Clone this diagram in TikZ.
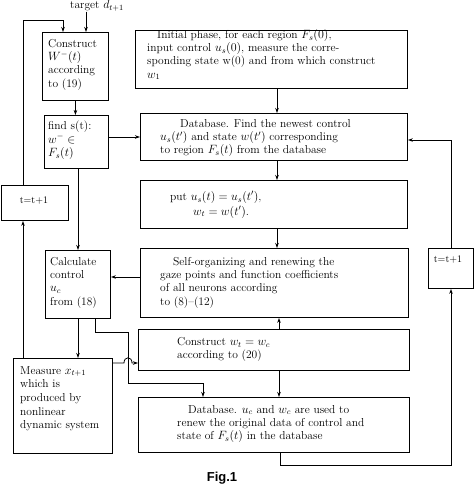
\documentclass[tikz,border=0pt]{standalone}
\usepackage{fontspec}
\newfontfamily\figfont{Liberation Sans}
\usetikzlibrary{arrows.meta}
\begin{document}
\begin{tikzpicture}[x=1pt,y=-1pt,
  box/.style={draw, line width=0.9pt, inner sep=0pt, anchor=north west},
  txt/.style={inner sep=0pt, anchor=north west, align=left, font=\fontsize{11.5}{13.3}\selectfont},
  ctxt/.style={inner sep=0pt, font=\fontsize{10}{12}\selectfont},
  arr/.style={-{Stealth[length=5pt,width=3.5pt]}, line width=0.8pt},
  ln/.style={line width=0.8pt}]
\useasboundingbox (0,0) rectangle (474,485);
% boxes
\node[box, minimum width=66, minimum height=68] (cW) at (42,32) {};
\node[box, minimum width=272, minimum height=58] (init) at (135,30) {};
\node[box, minimum width=64, minimum height=53] (find) at (44,115) {};
\node[box, minimum width=267, minimum height=47] (dbTop) at (140,113) {};
\node[box, minimum width=267, minimum height=48] (put) at (140,180) {};
\node[box, minimum width=268, minimum height=69] (self) at (140,248) {};
\node[box, minimum width=65, minimum height=68] (calc) at (45,250) {};
\node[box, minimum width=271, minimum height=41] (cw) at (138,329) {};
\node[box, minimum width=99, minimum height=95] (meas) at (13,358) {};
\node[box, minimum width=271, minimum height=55] (dbBot) at (138,397) {};
\node[box, minimum width=67, minimum height=35] (lt) at (1,185) {};
\node[box, minimum width=45, minimum height=40] (rt) at (428,248) {};
% texts
\node[txt] (tcW) at (48,39) {Construct\\$W^-(t)$\\according\\to (19)};
\node[txt] (tfind) at (48,121) {find s(t):\\$w^-\in$\\$F_s(t)$};
\node[txt] (tcalc) at (50,257) {Calculate\\control\\$u_c$\\from (18)};
\node[txt, font=\fontsize{11.5}{13.7}\selectfont] (tmeas) at (20,366) {Measure $x_{t+1}$\\which is\\produced by\\nonlinear\\dynamic system};
\node[txt] (tinit) at (147,29) {\hspace*{10pt}Initial phase, for each region $F_s(0)$,\\input control $u_s(0)$, measure the corre-\\sponding state w(0) and from which construct\\$w_1$};
\node[txt] (tdbTop) at (160,119) {\hspace*{20pt}Database. Find the newest control\\$u_s(t')$ and state $w(t')$ corresponding\\to region $F_s(t)$ from the database};
\node[txt] (tput) at (170,191) {put $u_s(t)=u_s(t')$,\\[1.5pt]\hspace*{23pt}$w_t=w(t')$.};
\node[txt] (tself) at (160,257) {\hspace*{13pt}Self-organizing and renewing the\\gaze points and function coefficients\\of all neurons according\\to (8)--(12)};
\node[txt] (tcw) at (177,337) {Construct $w_t=w_c$\\according to (20)};
\node[txt] (tdbBot) at (177,405) {\hspace*{11pt}Database. $u_c$ and $w_c$ are used to\\renew the original data of control and\\state of $F_s(t)$ in the database};
\node[ctxt] (tlt) at (34,201) {t=t+1};
\node[ctxt] (trt) at (448,260) {t=t+1};
\node[inner sep=0pt, font=\fontsize{11.5}{13}\selectfont] (tgt) at (97,6) {target $d_{t+1}$};
\node[inner sep=0pt, font=\figfont\bfseries\fontsize{13}{15}\selectfont] (fig) at (222,478) {Fig.1};
% helper coordinates
\coordinate (xL) at (23,0);
\coordinate (loopTop) at (23,20);
\coordinate (loopTopR) at (63,20);
\coordinate (xT) at (86,0);
\coordinate (y137) at (0,137);
\coordinate (x78) at (78,0);
\coordinate (x277) at (277,0);
\coordinate (y277) at (0,277);
\coordinate (x279) at (279,0);
\coordinate (c1) at (95,332);
\coordinate (c2) at (128,332);
\coordinate (c3) at (128,383);
\coordinate (c4) at (203,383);
\coordinate (j1) at (124,363);
\coordinate (j2) at (132,363);
\coordinate (b1) at (280,465);
\coordinate (b2) at (451,465);
\coordinate (r1) at (451,140);
% connectors
\draw[arr] (xT |- tgt.south) -- (xT |- cW.north);
\draw[arr] (xL |- meas.north) -- (xL |- lt.south);
\draw[arr] (xL |- lt.north) -- (loopTop) -- (loopTopR) -- (loopTopR |- cW.north);
\draw[arr] (cW.south) -- (cW.south |- find.north);
\draw[arr] (find.east |- y137) -- (dbTop.west |- y137);
\draw[arr] (x78 |- find.south) -- (x78 |- calc.north);
\draw[arr] (x277 |- init.south) -- (x277 |- dbTop.north);
\draw[arr] (x277 |- dbTop.south) -- (x277 |- put.north);
\draw[arr] (x277 |- put.south) -- (x277 |- self.north);
\draw[arr] (self.west |- y277) -- (calc.east |- y277);
\draw[arr] (x279 |- cw.north) -- (x279 |- self.south);
\draw[arr] (x279 |- cw.south) -- (x279 |- dbBot.north);
\draw[arr] (x78 |- calc.south) -- (x78 |- meas.north);
\draw[arr] (c1 |- calc.south) -- (c1) -- (c2) -- (c3) -- (c4) -- (c4 |- dbBot.north);
\draw[arr] (meas.east |- j1) -- (j1) .. controls (124,356) and (132,356) .. (j2) -- (cw.west |- j2);
\draw[arr] (b1 |- dbBot.south) -- (b1) -- (b2) -- (b2 |- rt.south);
\draw[arr] (r1 |- rt.north) -- (r1) -- (dbTop.east |- r1);
\end{tikzpicture}
\end{document}
